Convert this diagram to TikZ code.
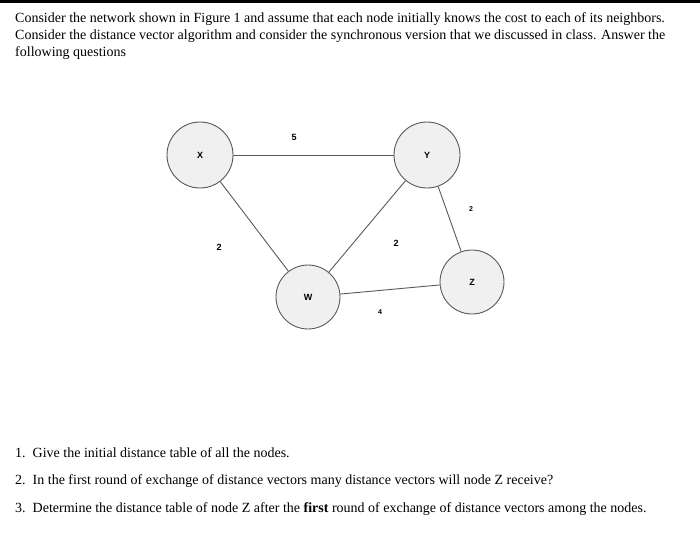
\documentclass[tikz,border=0pt]{standalone}
\usepackage{fontspec}
\setmainfont{Liberation Serif}
\newfontfamily\lsans{Liberation Sans}
\begin{document}
\begin{tikzpicture}[x=1pt,y=-1pt,
  nd/.style={circle,draw=black!65,line width=0.9pt,fill=black!6,minimum size=66pt,inner sep=0pt,font=\lsans\bfseries\fontsize{9}{10}\selectfont},
  ed/.style={draw=black!65,line width=0.9pt},
  wt/.style={font=\lsans\bfseries\fontsize{9}{10}\selectfont},
  tx/.style={anchor=base west,inner sep=0pt,font=\fontsize{14}{16}\selectfont}]
\useasboundingbox (0,0) rectangle (700,544);
\fill (0,0) rectangle (700,2.5);
\node[tx] (l1) at (15,22) {Consider the network shown in Figure 1 and assume that each node initially knows the cost to each of its neighbors.};
\node[tx] (l2) at (15,39) {Consider the distance vector algorithm and consider the synchronous version that we discussed in class. Answer the};
\node[tx] (l3) at (15,56) {following questions};
\node[nd] (x) at (200,155) {X};
\node[nd] (y) at (427,155) {Y};
\node[nd,minimum size=64pt] (w) at (308,297) {W};
\node[nd,minimum size=64pt] (z) at (472,282) {Z};
\draw[ed] (x) -- (y);
\draw[ed] (x) -- (w);
\draw[ed] (w) -- (y);
\draw[ed] (y) -- (z);
\draw[ed] (w) -- (z);
\node[wt] (c1) at (294,137) {5};
\node[wt] (c2) at (219,247) {2};
\node[wt] (c3) at (396,243) {2};
\node[wt,font=\lsans\bfseries\fontsize{7}{8}\selectfont] (c4) at (471,209) {2};
\node[wt,font=\lsans\bfseries\fontsize{7}{8}\selectfont] (c5) at (380,312) {4};
\node[tx] (q1) at (15,457) {1.\ \ Give the initial distance table of all the nodes.};
\node[tx] (q2) at (15,484) {2.\ \ In the first round of exchange of distance vectors many distance vectors will node Z receive?};
\node[tx] (q3) at (15,512) {3.\ \ Determine the distance table of node Z after the \textbf{first} round of exchange of distance vectors among the nodes.};
\end{tikzpicture}
\end{document}
